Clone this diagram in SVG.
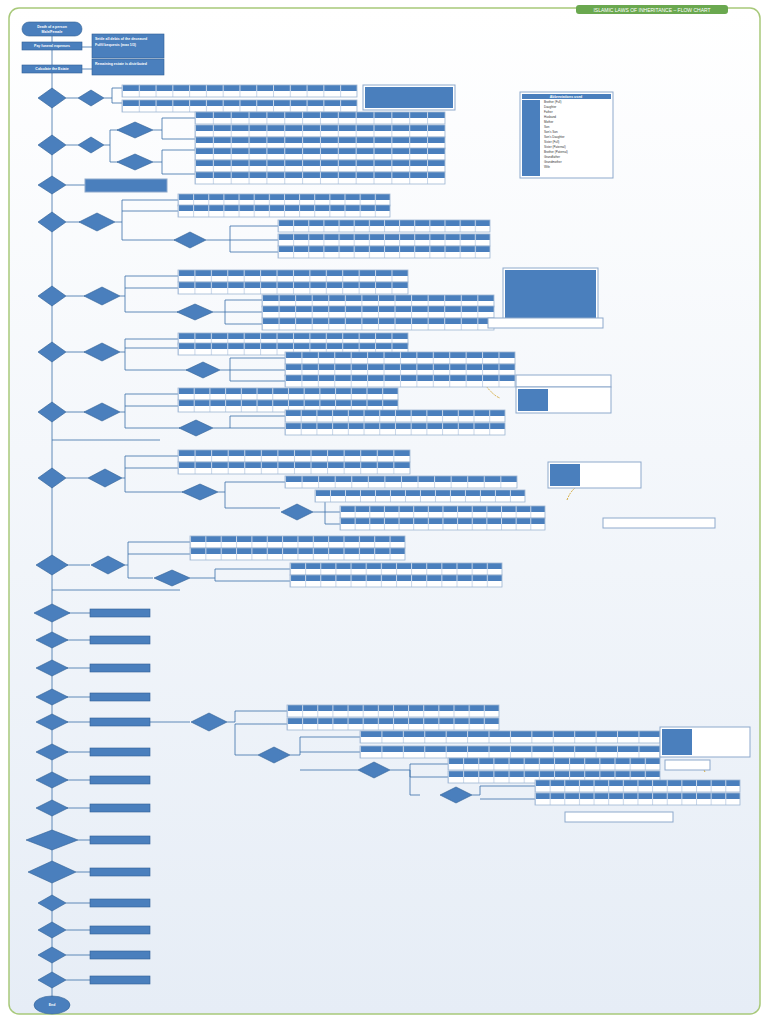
<svg xmlns="http://www.w3.org/2000/svg" width="768" height="1024" viewBox="0 0 768 1024">
<defs>
<linearGradient id="bg" x1="0" y1="0" x2="0" y2="1"><stop offset="0" stop-color="#ffffff"/><stop offset="1" stop-color="#e6edf6"/></linearGradient>
<pattern id="tbl" x="0" y="0" width="0.0714" height="1" patternUnits="objectBoundingBox"><rect width="40" height="6" fill="#4a7fbd"/><rect y="6" width="40" height="6" fill="#fff"/><line x1="0.5" y1="0" x2="0.5" y2="12" stroke="#c9d7ea" stroke-width="1"/></pattern>
</defs>
<style>
.d{fill:#4a7fbd;stroke:#2f5f96;stroke-width:.6}
.b{fill:#4a7fbd;stroke:#2f5f96;stroke-width:.6}
.t{stroke:#9fb6d3;stroke-width:.8}
.n{fill:#fff;stroke:#8ea9cc;stroke-width:1}
.c{fill:none;stroke:#3a6ea8;stroke-width:.8}
.w{font-family:"Liberation Sans",Arial,sans-serif;font-size:3.5px;fill:#fff;font-weight:bold}
.k{font-family:"Liberation Sans",Arial,sans-serif;font-size:3px;fill:#333}
</style>
<rect width="768" height="1024" fill="#fff"/>
<rect x="9" y="8" width="751" height="1006" rx="10" fill="url(#bg)" stroke="#a8c97a" stroke-width="1.5"/>
<rect x="576" y="5" width="152" height="9" rx="3" fill="#6aa84f"/>
<text x="652" y="11.5" text-anchor="middle" font-family="Liberation Sans,Arial,sans-serif" font-size="5" fill="#fff">ISLAMIC LAWS OF INHERITANCE – FLOW CHART</text>

<g id="connectors" class="c">
<path d="M52,35V1000"/>
<path d="M82,47H92M82,69H92"/>
<path d="M66,98H78M104,98H112V88H122M112,98V103H122"/>
<path d="M66,145H78M104,145H110V130H118M110,145V162H118M153,130H162V118H195M162,130V139H195M153,162H162V150H195M162,162V174H195"/>
<path d="M66,185H85"/>
<path d="M66,222H80M115,222H122V200H178M122,211H178M122,222V240H175M206,240H230V226H278M230,240H278M230,240V252H278"/>
<path d="M66,296H85M120,296H125V276H178M125,288H178M125,296V312H178M213,312H225V300H262M225,312H262M225,312V324H262"/>
<path d="M66,352H85M120,352H125V339H178M125,348H178M125,352V370H188M220,370H230V358H285M230,370H285M230,370V381H285"/>
<path d="M66,412H85M120,412H125V394H178M125,406H178M125,412V428H180M213,428H230V416H285M230,428H285"/>
<path d="M66,478H88M122,478H125V456H178M125,468H178M125,478V492H183M218,492H225V482H285M225,492V508H280M313,512H325V496H315M325,512H340M325,512V524H340"/>
<path d="M66,565H90M125,565H128V542H190M128,554H190M128,565V578H153M190,578H215V569H290M215,578V581H290"/>
<path d="M52,440H160M52,590H180"/>
<path d="M66,722H190M227,722H235V711H287M235,724H287M235,724V755H258M290,755H300V737H360M300,752H360M300,770H358M390,770H410V764H448M410,770V777H448M410,770V795H420M472,795H480V786H535M480,799H535"/>
<path d="M66,613H90M66,640H90M66,668H90M66,697H90M66,752H90M66,780H90M66,808H90M78,840H90M76,872H90M66,903H90M66,930H90M66,955H90M66,980H90"/>
</g>
<g stroke="#d4a93a" fill="none" stroke-width="1"><path d="M486,386q8,10 14,12" stroke-dasharray="2 1"/><path d="M567,500q3,-8 8,-12" stroke-dasharray="2 1"/><path d="M705,772q-3,-5 2,-10" stroke-dasharray="2 1"/></g>

<g id="start"><rect x="22" y="22" width="60" height="14" rx="7" class="d"/><text x="52" y="28" class="w" text-anchor="middle">Death of a person</text><text x="52" y="33" class="w" text-anchor="middle">Male/Female</text></g>
<g id="b1"><rect x="22" y="42" width="60" height="8" class="b"/><text x="52" y="47" class="w" text-anchor="middle">Pay funeral expenses</text></g>
<g id="b2"><rect x="22" y="65" width="60" height="8" class="b"/><text x="52" y="70" class="w" text-anchor="middle">Calculate the Estate</text></g>
<g id="n1"><rect x="92" y="34" width="72" height="24" class="b"/><text x="95" y="40" class="w">Settle all debts of the deceased</text><text x="95" y="46" class="w">Fulfil bequests (max 1/3)</text></g>
<g id="n2"><rect x="92" y="59" width="72" height="16" class="b"/><text x="95" y="65" class="w">Remaining estate is distributed</text></g>

<g id="diamonds" class="d">
<path d="M52,88L66,98L52,108L38,98z"/><path d="M91,90L104,98L91,106L78,98z"/>
<path d="M52,135L66,145L52,155L38,145z"/><path d="M91,137L104,145L91,153L78,145z"/>
<path d="M135,122L153,130L135,138L117,130z"/><path d="M135,154L153,162L135,170L117,162z"/>
<path d="M52,176L66,185L52,194L38,185z"/>
<path d="M52,212L66,222L52,232L38,222z"/><path d="M97,213L115,222L97,231L79,222z"/><path d="M190,232L206,240L190,248L174,240z"/>
<path d="M52,286L66,296L52,306L38,296z"/><path d="M102,287L120,296L102,305L84,296z"/><path d="M195,304L213,312L195,320L177,312z"/>
<path d="M52,342L66,352L52,362L38,352z"/><path d="M102,343L120,352L102,361L84,352z"/><path d="M203,362L220,370L203,378L186,370z"/>
<path d="M52,402L66,412L52,422L38,412z"/><path d="M102,403L120,412L102,421L84,412z"/><path d="M196,420L213,428L196,436L179,428z"/>
<path d="M52,468L66,478L52,488L38,478z"/><path d="M105,469L122,478L105,487L88,478z"/><path d="M200,484L218,492L200,500L182,492z"/><path d="M297,504L313,512L297,520L281,512z"/>
<path d="M52,555L68,565L52,575L36,565z"/><path d="M108,556L125,565L108,574L91,565z"/><path d="M172,570L190,578L172,586L154,578z"/>
<path d="M52,604L70,613L52,622L34,613z"/><path d="M52,632L68,640L52,648L36,640z"/><path d="M52,660L68,668L52,676L36,668z"/><path d="M52,689L68,697L52,705L36,697z"/><path d="M52,714L68,722L52,730L36,722z"/><path d="M52,744L68,752L52,760L36,752z"/><path d="M52,772L68,780L52,788L36,780z"/><path d="M52,800L68,808L52,816L36,808z"/>
<path d="M52,830L78,840L52,850L26,840z"/><path d="M52,861L76,872L52,883L28,872z"/><path d="M52,895L66,903L52,911L38,903z"/><path d="M52,922L66,930L52,938L38,930z"/><path d="M52,947L66,955L52,963L38,955z"/><path d="M52,972L66,980L52,988L38,980z"/>
<path d="M209,713L227,722L209,731L191,722z"/><path d="M274,747L290,755L274,763L258,755z"/><path d="M374,762L390,770L374,778L358,770z"/><path d="M456,787L472,795L456,803L440,795z"/>
</g>
<g id="end"><ellipse cx="52" cy="1005" rx="18" ry="9" class="d"/><text x="52" y="1006" class="w" text-anchor="middle">End</text></g>

<g id="sidebox" class="b">
<rect x="90" y="609" width="60" height="8"/><rect x="90" y="636" width="60" height="8"/><rect x="90" y="664" width="60" height="8"/><rect x="90" y="693" width="60" height="8"/><rect x="90" y="718" width="60" height="8"/><rect x="90" y="748" width="60" height="8"/><rect x="90" y="776" width="60" height="8"/><rect x="90" y="804" width="60" height="8"/><rect x="90" y="836" width="60" height="8"/><rect x="90" y="868" width="60" height="8"/><rect x="90" y="899" width="60" height="8"/><rect x="90" y="926" width="60" height="8"/><rect x="90" y="951" width="60" height="8"/><rect x="90" y="976" width="60" height="8"/>
</g>

<g id="tables" class="t" fill="url(#tbl)">
<rect x="122" y="85" width="235" height="12"/><rect x="122" y="100" width="235" height="12"/>
<rect x="195" y="112" width="250" height="12"/><rect x="195" y="125" width="250" height="12"/><rect x="195" y="137" width="250" height="12"/><rect x="195" y="148" width="250" height="12"/><rect x="195" y="160" width="250" height="12"/><rect x="195" y="172" width="250" height="12"/>
<rect x="178" y="194" width="212" height="12"/><rect x="178" y="205" width="212" height="12"/>
<rect x="278" y="220" width="212" height="12"/><rect x="278" y="234" width="212" height="12"/><rect x="278" y="246" width="212" height="12"/>
<rect x="178" y="270" width="230" height="12"/><rect x="178" y="282" width="230" height="12"/><rect x="262" y="295" width="232" height="12"/><rect x="262" y="306" width="232" height="12"/><rect x="262" y="318" width="232" height="12"/>
<rect x="178" y="333" width="230" height="12"/><rect x="178" y="343" width="230" height="12"/><rect x="285" y="352" width="230" height="12"/><rect x="285" y="364" width="230" height="12"/><rect x="285" y="375" width="230" height="12"/>
<rect x="178" y="388" width="220" height="12"/><rect x="178" y="400" width="220" height="12"/><rect x="285" y="410" width="220" height="12"/><rect x="285" y="423" width="220" height="12"/>
<rect x="178" y="450" width="232" height="12"/><rect x="178" y="462" width="232" height="12"/><rect x="285" y="476" width="232" height="12"/><rect x="315" y="490" width="210" height="12"/><rect x="340" y="506" width="205" height="12"/><rect x="340" y="518" width="205" height="12"/>
<rect x="190" y="536" width="215" height="12"/><rect x="190" y="548" width="215" height="12"/><rect x="290" y="563" width="212" height="12"/><rect x="290" y="575" width="212" height="12"/>
<rect x="287" y="705" width="212" height="12"/><rect x="287" y="718" width="212" height="12"/><rect x="360" y="731" width="300" height="12"/><rect x="360" y="746" width="300" height="12"/><rect x="448" y="758" width="212" height="12"/><rect x="448" y="771" width="212" height="12"/><rect x="535" y="780" width="205" height="12"/><rect x="535" y="793" width="205" height="12"/>
</g>

<g id="legend"><rect x="520" y="92" width="93" height="86" class="n"/><rect x="522" y="94" width="89" height="5" fill="#4a7fbd"/><text x="566" y="98" class="w" text-anchor="middle">Abbreviations used</text>
<g fill="#4a7fbd"><rect x="522" y="100" width="18" height="76"/></g>
<g class="k"><text x="544" y="103">Brother (Full)</text><text x="544" y="108">Daughter</text><text x="544" y="113">Father</text><text x="544" y="118">Husband</text><text x="544" y="123">Mother</text><text x="544" y="128">Son</text><text x="544" y="133">Son's Son</text><text x="544" y="138">Son's Daughter</text><text x="544" y="143">Sister (Full)</text><text x="544" y="148">Sister (Paternal)</text><text x="544" y="153">Brother (Paternal)</text><text x="544" y="158">Grandfather</text><text x="544" y="163">Grandmother</text><text x="544" y="168">Wife</text></g></g>

<g id="notes">
<rect x="363" y="85" width="92" height="25" class="n"/><rect x="365" y="87" width="88" height="21" fill="#4a7fbd"/>
<rect x="503" y="268" width="95" height="52" class="n"/><rect x="505" y="270" width="91" height="48" fill="#4a7fbd"/>
<rect x="488" y="318" width="115" height="10" class="n"/>
<rect x="516" y="375" width="95" height="12" class="n"/>
<rect x="516" y="387" width="95" height="26" class="n"/><rect x="518" y="389" width="30" height="22" fill="#4a7fbd"/>
<rect x="548" y="462" width="93" height="26" class="n"/><rect x="550" y="464" width="30" height="22" fill="#4a7fbd"/>
<rect x="603" y="518" width="112" height="10" class="n"/>
<rect x="660" y="727" width="90" height="30" class="n"/><rect x="662" y="729" width="30" height="26" fill="#4a7fbd"/>
<rect x="665" y="760" width="45" height="10" class="n"/>
<rect x="565" y="812" width="108" height="10" class="n"/>
<rect x="85" y="179" width="82" height="13" fill="#4a7fbd" stroke="#8ea9cc"/>
</g>
</svg>
